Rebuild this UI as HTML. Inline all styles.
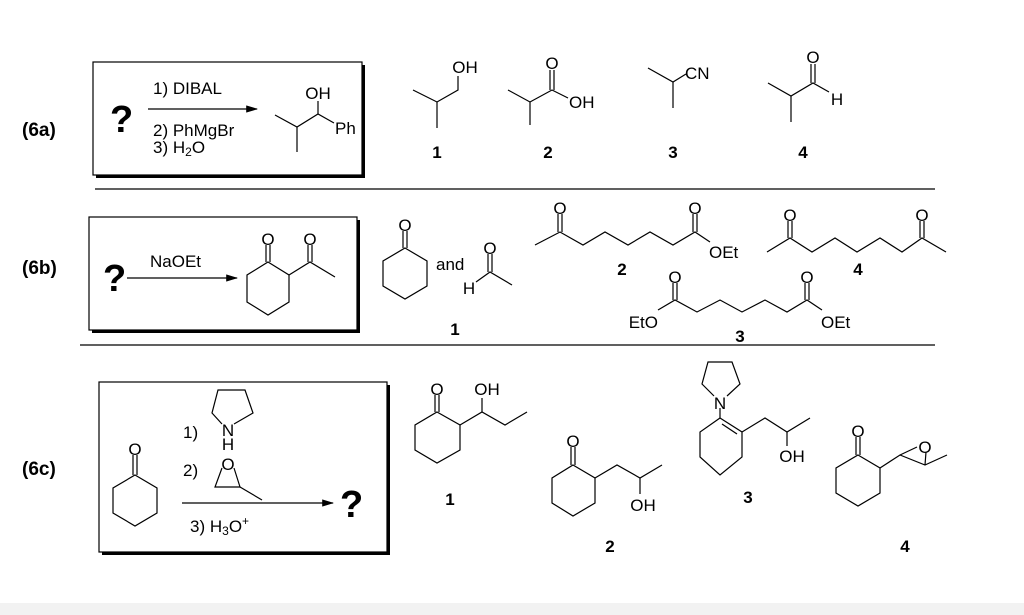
<!DOCTYPE html>
<html><head><meta charset="utf-8"><style>
html,body{margin:0;padding:0;background:#fff;}
svg{display:block;}
text{font-family:"Liberation Sans",Arial,sans-serif;font-size:17px;fill:#000;}
.m{text-anchor:middle;}
.e{text-anchor:end;}
.b{font-weight:bold;text-anchor:middle;}
.lbl{font-weight:bold;font-size:19px;}
.q{font-weight:bold;font-size:38px;}
</style></head><body>
<svg width="1024" height="615" viewBox="0 0 1024 615" xmlns="http://www.w3.org/2000/svg">
<defs><marker id="ah" markerWidth="10" markerHeight="6" refX="9" refY="3" orient="auto"><path d="M0,0 L10,3 L0,6 z" fill="#000"/></marker></defs>
<g stroke="#000" stroke-width="1.2" fill="none">
<rect x="96" y="65" width="269" height="113" fill="#000" stroke="none"/>
<rect x="93" y="62" width="269" height="113" fill="#fff"/>
<rect x="92" y="220" width="268" height="113" fill="#000" stroke="none"/>
<rect x="89" y="217" width="268" height="113" fill="#fff"/>
<rect x="102" y="385" width="288" height="170" fill="#000" stroke="none"/>
<rect x="99" y="382" width="288" height="170" fill="#fff"/>
<line x1="95" y1="189" x2="935" y2="189"/>
<line x1="80" y1="345" x2="935" y2="345"/>
<line x1="148" y1="109" x2="257" y2="109" marker-end="url(#ah)"/>
<polyline points="275,115 297,127 318,114 334,123"/>
<line x1="318" y1="114" x2="318" y2="101"/>
<line x1="297" y1="127" x2="297" y2="152"/>
<polyline points="413,90 437,102 458,90 458,76"/>
<line x1="437" y1="102" x2="437" y2="128"/>
<polyline points="508,90 530,102 552,90 568,98"/>
<line x1="530" y1="102" x2="530" y2="125"/>
<line x1="550" y1="90" x2="550" y2="70"/><line x1="554" y1="90" x2="554" y2="70"/>
<polyline points="648,68 673,82 686,74"/>
<line x1="673" y1="82" x2="673" y2="108"/>
<polyline points="768,83 791,96 813,83 829,92"/>
<line x1="791" y1="96" x2="791" y2="122"/>
<line x1="811" y1="83" x2="811" y2="64"/><line x1="815" y1="83" x2="815" y2="64"/>
<line x1="127" y1="278" x2="237" y2="278" marker-end="url(#ah)"/>
<polygon points="268,262 289,275 289,302 268,315 247,302 247,275"/>
<line x1="266" y1="262" x2="266" y2="245"/><line x1="270" y1="262" x2="270" y2="245"/>
<polyline points="289,275 310,262 335,277"/>
<line x1="308" y1="262" x2="308" y2="245"/><line x1="312" y1="262" x2="312" y2="245"/>
<polygon points="405,248 427,261 427,286 405,299 383,286 383,261"/>
<line x1="403" y1="248" x2="403" y2="231"/><line x1="407" y1="248" x2="407" y2="231"/>
<polyline points="476,282 490,272 512,285"/>
<line x1="488" y1="272" x2="488" y2="254"/><line x1="492" y1="272" x2="492" y2="254"/>
<polyline points="535,245 560,232 583,245 605,232 628,245 650,232 673,245 695,232 710,242"/>
<line x1="558" y1="232" x2="558" y2="214"/><line x1="562" y1="232" x2="562" y2="214"/>
<line x1="693" y1="232" x2="693" y2="214"/><line x1="697" y1="232" x2="697" y2="214"/>
<polyline points="767,252 790,238 812,252 835,238 857,252 880,238 902,252 922,238 946,252"/>
<line x1="788" y1="238" x2="788" y2="221"/><line x1="792" y1="238" x2="792" y2="221"/>
<line x1="920" y1="238" x2="920" y2="221"/><line x1="924" y1="238" x2="924" y2="221"/>
<polyline points="658,310 675,300 697,312 720,300 742,312 765,300 787,312 807,300 822,310"/>
<line x1="673" y1="300" x2="673" y2="283"/><line x1="677" y1="300" x2="677" y2="283"/>
<line x1="805" y1="300" x2="805" y2="283"/><line x1="809" y1="300" x2="809" y2="283"/>
<polygon points="135,475 157,488 157,513 135,526 113,513 113,488"/>
<line x1="133" y1="475" x2="133" y2="455"/><line x1="137" y1="475" x2="137" y2="455"/>
<polyline points="222,424 212,413 218,390 245,390 253,413 234,424"/>
<polyline points="222,468 215,487 240,487 234,468"/>
<line x1="240" y1="487" x2="262" y2="500"/>
<line x1="182" y1="503" x2="333" y2="503" marker-end="url(#ah)"/>
<polygon points="437,412 460,425 460,450 437,463 415,450 415,425"/>
<line x1="435" y1="412" x2="435" y2="395"/><line x1="439" y1="412" x2="439" y2="395"/>
<polyline points="460,425 482,412 505,425 527,412"/>
<line x1="482" y1="412" x2="482" y2="398"/>
<polygon points="573,465 595,478 595,503 573,516 552,503 552,478"/>
<line x1="571" y1="465" x2="571" y2="447"/><line x1="575" y1="465" x2="575" y2="447"/>
<polyline points="595,478 617,465 640,478 662,465"/>
<line x1="640" y1="478" x2="640" y2="494"/>
<polyline points="714,396 702,384 708,362 732,362 740,384 727,396"/>
<line x1="720" y1="408" x2="720" y2="418"/>
<polygon points="720,418 742,432 742,457 720,475 700,457 700,432"/>
<line x1="722" y1="424" x2="737" y2="434"/>
<polyline points="742,432 765,418 787,432 810,418"/>
<line x1="787" y1="432" x2="787" y2="446"/>
<polygon points="858,455 880,468 880,493 858,506 836,493 836,468"/>
<line x1="856" y1="455" x2="856" y2="437"/><line x1="860" y1="455" x2="860" y2="437"/>
<polyline points="880,468 900,455 925,465 947,455"/>
<line x1="900" y1="455" x2="917" y2="447"/><line x1="925" y1="465" x2="926" y2="452"/>
</g>
<text class="lbl" x="22" y="136">(6a)</text>
<text class="lbl" x="22" y="274">(6b)</text>
<text class="lbl" x="22" y="475">(6c)</text>
<text class="q" x="110" y="132">?</text>
<text x="153" y="94">1) DIBAL</text>
<text x="153" y="136">2) PhMgBr</text>
<text x="153" y="153">3) H<tspan font-size="12" dy="3">2</tspan><tspan dy="-3">O</tspan></text>
<text class="m" x="318" y="99">OH</text>
<text x="335" y="134">Ph</text>
<text class="m" x="465" y="73">OH</text>
<text class="m" x="552" y="69">O</text>
<text x="569" y="108">OH</text>
<text x="685" y="79">CN</text>
<text class="m" x="813" y="63">O</text>
<text class="m" x="837" y="105">H</text>
<text class="b" x="437" y="158">1</text>
<text class="b" x="548" y="158">2</text>
<text class="b" x="673" y="158">3</text>
<text class="b" x="803" y="158">4</text>
<text class="q" x="103" y="291">?</text>
<text x="150" y="267">NaOEt</text>
<text class="m" x="268" y="245">O</text>
<text class="m" x="310" y="245">O</text>
<text class="m" x="405" y="231">O</text>
<text x="436" y="270">and</text>
<text class="m" x="469" y="294">H</text>
<text class="m" x="490" y="254">O</text>
<text class="b" x="455" y="335">1</text>
<text class="m" x="560" y="214">O</text>
<text class="m" x="695" y="214">O</text>
<text x="709" y="258">OEt</text>
<text class="b" x="622" y="275">2</text>
<text class="m" x="790" y="221">O</text>
<text class="m" x="922" y="221">O</text>
<text class="b" x="858" y="275">4</text>
<text class="e" x="658" y="328">EtO</text>
<text class="m" x="675" y="283">O</text>
<text class="m" x="807" y="283">O</text>
<text x="821" y="328">OEt</text>
<text class="b" x="740" y="342">3</text>
<text class="m" x="135" y="455">O</text>
<text x="183" y="438">1)</text>
<text class="m" x="228" y="436">N</text>
<text class="m" x="228" y="450">H</text>
<text x="183" y="476">2)</text>
<text class="m" x="228" y="470">O</text>
<text class="q" x="340" y="517">?</text>
<text x="190" y="532">3) H<tspan font-size="12" dy="3">3</tspan><tspan dy="-3">O</tspan><tspan font-size="12" dy="-7">+</tspan></text>
<text class="m" x="437" y="395">O</text>
<text class="m" x="487" y="395">OH</text>
<text class="b" x="450" y="505">1</text>
<text class="m" x="573" y="447">O</text>
<text class="m" x="643" y="511">OH</text>
<text class="b" x="610" y="552">2</text>
<text class="m" x="720" y="409">N</text>
<text class="m" x="792" y="462">OH</text>
<text class="b" x="748" y="503">3</text>
<text class="m" x="858" y="437">O</text>
<text class="m" x="925" y="453">O</text>
<text class="b" x="905" y="552">4</text>
<rect x="0" y="603" width="1024" height="12" fill="#f2f2f2"/>
</svg>
</body></html>
